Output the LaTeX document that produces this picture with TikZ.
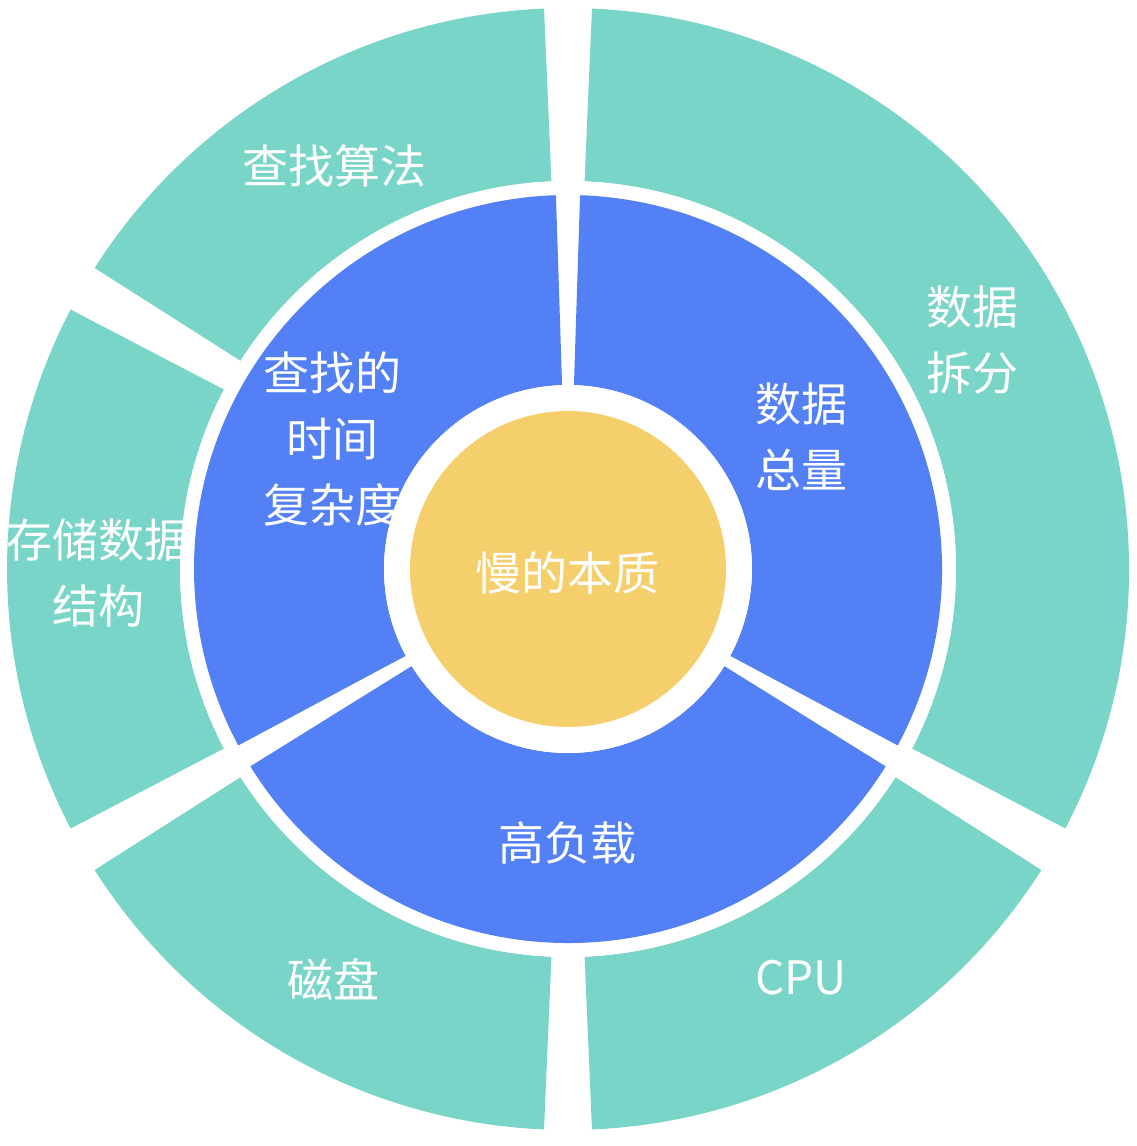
\documentclass[tikz,border=0pt]{standalone}
\usepackage{fontspec}
\setmainfont{Noto Sans CJK SC}
\usetikzlibrary{calc}
\definecolor{ringblue}{RGB}{83,128,245}
\definecolor{ringgreen}{RGB}{121,213,199}
\definecolor{coreyellow}{RGB}{245,207,107}

\begin{document}
\begin{tikzpicture}[y=0.50pt, x=0.50pt, yscale=-1, inner sep=0pt, outer sep=0pt,
  outerseg/.style={fill=ringgreen},
  innerseg/.style={fill=ringblue},
  segtext/.style={text=white, align=center, font=\fontsize{23}{33}\selectfont}]
\path[use as bounding box] (0,0) rectangle (1136,1146);
\coordinate (c) at (568,569);

% outer ring, angles mirrored by yscale=-1
\path[outerseg] ($(c)+(-92.45:561)$) arc[start angle=-92.45, end angle=-147.55,
  radius=561] -- ($(c)+(-147.55:388)$) arc[start angle=-147.55, end
  angle=-92.45, radius=388] -- cycle;
\path[outerseg] ($(c)+(-152.45:561)$) arc[start angle=-152.45, end angle=-207.55,
  radius=561] -- ($(c)+(-207.55:388)$) arc[start angle=-207.55, end
  angle=-152.45, radius=388] -- cycle;
\path[outerseg] ($(c)+(-212.45:561)$) arc[start angle=-212.45, end angle=-267.55,
  radius=561] -- ($(c)+(-267.55:388)$) arc[start angle=-267.55, end
  angle=-212.45, radius=388] -- cycle;
\path[outerseg] ($(c)+(-272.45:561)$) arc[start angle=-272.45, end angle=-327.55,
  radius=561] -- ($(c)+(-327.55:388)$) arc[start angle=-327.55, end
  angle=-272.45, radius=388] -- cycle;
\path[outerseg] ($(c)+(27.55:561)$) arc[start angle=27.55, end angle=-87.55,
  radius=561] -- ($(c)+(-87.55:388)$) arc[start angle=-87.55, end
  angle=27.55, radius=388] -- cycle;
\node[segtext] (txtalgo) at (334,166) {查找算法};
\node[segtext] (txtstruct) at (98,573) {存储数据\\结构};
\node[segtext] (txtdisk) at (333,979) {磁盘};
\node[segtext] (txtcpu) at (801,978) {CPU};
\node[segtext] (txtsplit) at (972,340) {数据\\拆分};

% inner ring
\path[fill=white] (c) circle[radius=388];
\path[innerseg] ($(c)+(-91.85:374)$) arc[start angle=-91.85, end angle=-208.15,
  radius=374] -- ($(c)+(-208.15:184)$) arc[start angle=-208.15, end
  angle=-91.85, radius=184] -- cycle;
\path[innerseg] ($(c)+(-211.85:374)$) arc[start angle=-211.85, end angle=-328.15,
  radius=374] -- ($(c)+(-328.15:184)$) arc[start angle=-328.15, end
  angle=-211.85, radius=184] -- cycle;
\path[innerseg] ($(c)+(28.15:374)$) arc[start angle=28.15, end angle=-88.15,
  radius=374] -- ($(c)+(-88.15:184)$) arc[start angle=-88.15, end
  angle=28.15, radius=184] -- cycle;
\node[segtext] (txttime) at (332,439) {查找的\\时间\\复杂度};
\node[segtext] (txtload) at (567,843) {高负载};
\node[segtext] (txttotal) at (801,437) {数据\\总量};

% core
\path[fill=white] (c) circle[radius=184];
\path[fill=coreyellow] (c) circle[radius=158];
\node[segtext] (txtcore) at (567,573) {慢的本质};
\end{tikzpicture}
\end{document}
